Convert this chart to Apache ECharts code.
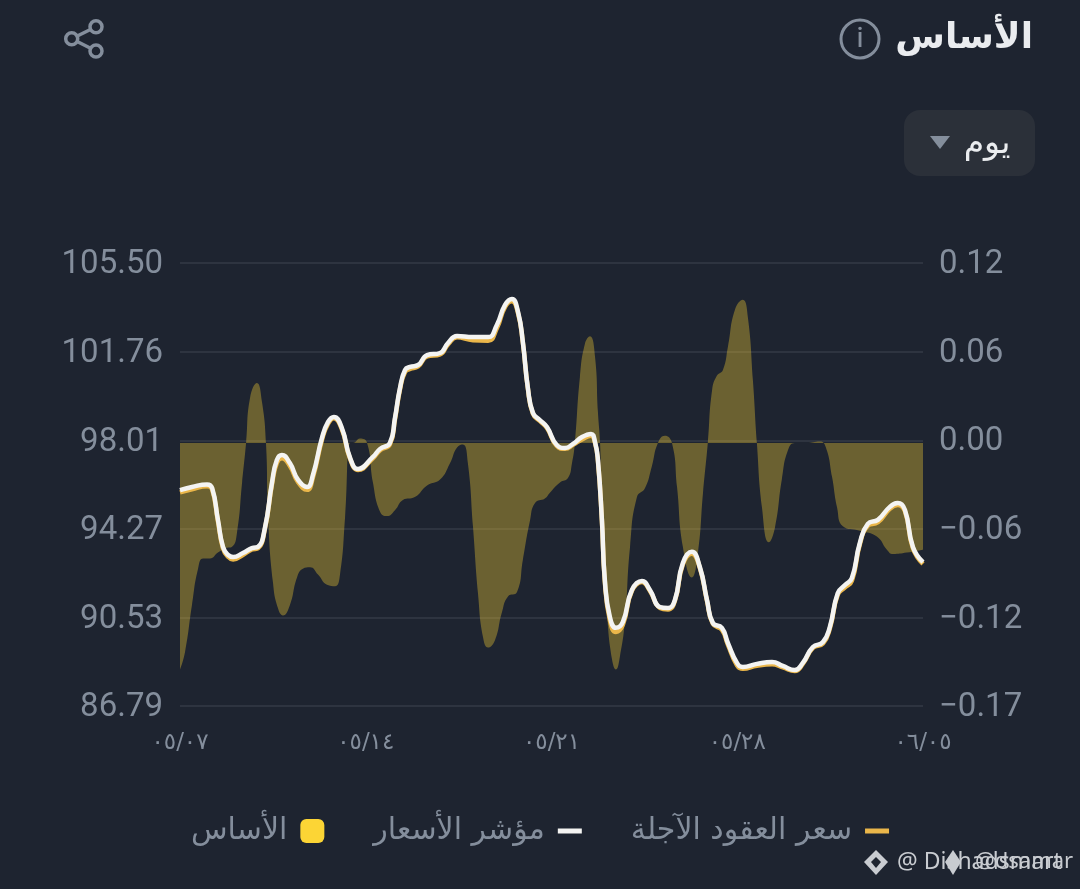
<!DOCTYPE html>
<html lang="ar">
<head>
<meta charset="utf-8">
<style>html,body{margin:0;padding:0;background:#1e2430}#c{width:1080px;height:889px}</style>
<script src="https://cdn.jsdelivr.net/npm/echarts@6/dist/echarts.min.js"></script>
</head>
<body>
<div id="c"></div>
<script>
const titleText = 'الأساس';
const periodText = 'يوم';
const futuresName = 'سعر العقود الآجلة';
const indexName = 'مؤشر الأسعار';
const basisName = 'الأساس';
const dateLabels = ['٠٥/٠٧','٠٥/١٤','٠٥/٢١','٠٥/٢٨','٠٦/٠٥'];
const leftTicks = [86.79,90.53,94.27,98.01,101.76,105.50];
const rightLabels = ['−0.17','−0.12','−0.06','0.00','0.06','0.12'];

const priceDays = [0,.45,1.02,1.21,1.43,1.62,1.81,2.00,2.37,2.71,2.94,3.20,3.47,3.65,3.84,4.14,4.45,4.79,5.01,5.35,5.58,5.80,6.10,6.41,6.71,7.27,7.54,7.91,8.10,8.29,8.48,8.67,8.97,9.31,9.80,10.10,10.44,11.04,11.61,11.94,12.25,12.51,12.74,12.92,13.11,13.30,13.56,13.83,14.20,14.51,14.81,15.15,15.49,15.64,15.75,15.90,16.01,16.20,16.43,16.69,17.03,17.41,17.71,18.09,18.39,18.65,18.95,19.29,19.59,19.86,20.08,20.42,20.65,20.99,21.21,21.74,22.31,22.72,23.17,23.47,23.85,24.23,24.49,24.79,25.06,25.32,25.62,25.92,26.30,26.75,27.05,27.32,27.62,28];
const indexPrices = [95.91,96.04,96.15,96.00,94.65,93.51,93.17,93.08,93.25,93.46,93.51,94.31,96.25,97.18,97.39,97.05,96.34,96.04,96.55,98.11,98.79,99.00,98.53,97.27,96.80,97.31,97.65,97.90,98.95,100.22,100.98,101.11,101.19,101.61,101.70,102.12,102.42,102.37,102.37,102.88,103.73,103.98,103.43,102.16,100.22,99.17,98.87,98.57,97.81,97.69,97.86,98.15,98.28,97.94,97.18,94.65,92.11,90.55,90.09,90.34,91.69,92.07,91.69,90.97,90.93,91.27,92.83,93.30,92.66,91.27,90.30,90.09,89.45,88.61,88.44,88.57,88.65,88.48,88.31,88.61,89.28,89.49,90.13,91.56,91.90,92.20,93.68,94.48,94.65,95.20,95.36,95.07,93.51,92.87];
const futuresPrices = [95.81,95.94,96.07,95.94,94.59,93.45,93.09,92.98,93.17,93.40,93.45,94.27,96.17,97.06,97.25,96.93,96.24,95.92,96.45,98.03,98.71,98.94,98.47,97.23,96.76,97.25,97.59,97.84,98.89,100.16,100.90,101.03,101.13,101.55,101.64,102.06,102.36,102.24,102.22,102.74,103.65,103.88,103.37,102.14,100.20,99.13,98.83,98.53,97.77,97.65,97.82,98.05,98.20,97.90,97.14,94.61,92.05,90.41,89.92,90.22,91.65,92.03,91.65,90.93,90.87,91.23,92.77,93.22,92.62,91.23,90.26,90.01,89.37,88.51,88.36,88.49,88.55,88.42,88.27,88.57,89.24,89.43,90.07,91.50,91.80,92.08,93.62,94.40,94.55,95.12,95.28,95.01,93.45,92.79];

const basisDays = [0,.19,.45,.68,.87,1.13,1.43,1.70,1.96,2.15,2.34,2.49,2.64,2.90,3.09,3.24,3.32,3.50,3.69,3.88,4.14,4.41,4.63,4.90,5.20,5.54,5.84,6.03,6.22,6.41,6.52,6.78,7.05,7.27,7.54,7.80,8.10,8.40,8.85,9.31,9.80,10.17,10.44,10.66,10.85,11.04,11.23,11.42,11.61,11.87,12.13,12.36,12.70,12.92,13.19,13.38,13.75,13.94,14.32,14.62,14.77,14.88,15.07,15.26,15.45,15.64,15.75,15.83,15.94,16.09,16.28,16.43,16.58,16.77,16.96,17.22,17.52,17.78,18.01,18.27,18.54,18.73,18.95,19.29,19.52,19.71,19.89,20.05,20.23,20.46,20.65,20.91,21.21,21.40,21.59,21.74,21.93,22.19,22.42,22.68,22.91,23.17,23.62,24.11,24.34,24.57,24.76,24.98,25.62,26.26,26.64,26.87,27.39,28];
const basisValues = [-.155,-.143,-.111,-.086,-.079,-.079,-.075,-.072,-.071,-.061,-.027,0,.031,.041,.028,0,-.051,-.095,-.113,-.118,-.111,-.092,-.086,-.085,-.090,-.097,-.098,-.090,-.051,0,0,.003,0,-.027,-.047,-.050,-.046,-.039,-.037,-.029,-.025,-.014,-.003,-.001,-.014,-.057,-.103,-.133,-.140,-.135,-.116,-.105,-.102,-.080,-.053,-.041,-.038,-.034,-.027,-.024,-.014,0,.045,.068,.073,.059,.021,0,-.066,-.116,-.148,-.155,-.146,-.121,-.071,-.037,-.031,-.016,0,.005,0,-.030,-.071,-.092,-.075,-.034,0,.036,.046,.050,.066,.091,.098,.086,.043,0,-.044,-.068,-.058,-.025,-.005,0,0,.001,-.003,-.023,-.044,-.057,-.060,-.064,-.073,-.076,-.075,-.073];

const GREY = '#848e9c', YELLOW = '#fcd535', ORANGE = '#eab64a', WHITE = '#f4f4f2', BG = '#1e2430';
const arabic = '"DejaVu Sans", sans-serif';
const barIcon = 'path://M0,9.5 h24 v5 h-24 z M0,0 h0 v0 z M24,24 h0 v0 z';
const pairs = (xs, ys) => xs.map((x, i) => [x, ys[i]]);
const tickRich = {t: {color: GREY, fontFamily: 'Roboto', fontSize: 33, padding: [4, 0, 0, 0]}};

const chart = echarts.init(document.getElementById('c'), null, {renderer: 'canvas'});
chart.setOption({
  backgroundColor: BG,
  animation: false,
  grid: {left: 180, right: 157, top: 263, bottom: 183},
  xAxis: {
    type: 'value', min: 0, max: 28, interval: 7,
    axisLine: {show: false}, axisTick: {show: false}, splitLine: {show: false},
    axisLabel: {
      color: GREY, fontFamily: arabic, fontSize: 23, margin: 26,
      showMinLabel: true, showMaxLabel: true,
      formatter: (v, i) => dateLabels[i]
    }
  },
  yAxis: [
    {
      type: 'value', min: 86.79, max: 105.5, position: 'left',
      axisLine: {show: false},
      axisTick: {show: false, customValues: leftTicks},
      splitLine: {show: true, lineStyle: {color: '#343a46', width: 1.5}},
      axisLabel: {customValues: leftTicks, margin: 17, rich: tickRich,
        formatter: v => '{t|' + v.toFixed(2) + '}'}
    },
    {
      type: 'value', min: -0.18, max: 0.12, interval: 0.06, position: 'right',
      axisLine: {show: false}, axisTick: {show: false}, splitLine: {show: false},
      axisLabel: {margin: 16, rich: tickRich,
        formatter: (v, i) => '{t|' + rightLabels[i] + '}'}
    },
    {type: 'value', min: -0.18, max: 0.1232, show: false}
  ],
  legend: {
    left: 186, top: 811, align: 'right', itemGap: 49, itemWidth: 24, itemHeight: 24,
    textStyle: {color: GREY, fontFamily: arabic, fontSize: 30, padding: [0, 8, 0, 0]},
    itemStyle: {borderWidth: 0},
    data: [
      {name: basisName, icon: 'roundRect'},
      {name: indexName, icon: barIcon},
      {name: futuresName, icon: barIcon}
    ]
  },
  series: [
    {
      name: basisName, type: 'line', yAxisIndex: 2, smooth: 0.5, symbol: 'none', z: 1,
      data: pairs(basisDays, basisValues),
      itemStyle: {color: YELLOW},
      lineStyle: {width: 0},
      areaStyle: {color: YELLOW, opacity: 0.35}
    },
    {
      name: futuresName, type: 'line', yAxisIndex: 0, smooth: 0.5, symbol: 'none', z: 2,
      data: pairs(priceDays, futuresPrices),
      itemStyle: {color: ORANGE},
      lineStyle: {color: ORANGE, width: 4.5}
    },
    {
      name: indexName, type: 'line', yAxisIndex: 0, smooth: 0.5, symbol: 'none', z: 3,
      data: pairs(priceDays, indexPrices),
      itemStyle: {color: WHITE},
      lineStyle: {color: WHITE, width: 4.5}
    }
  ],
  graphic: [
    {type: 'text', right: 47, top: 21, style: {text: titleText, fill: '#eaecef', font: 'bold 36px "DejaVu Sans"'}},
    {type: 'circle', shape: {cx: 860, cy: 39, r: 19}, style: {fill: 'none', stroke: GREY, lineWidth: 3}},
    {type: 'text', x: 860, y: 39, style: {text: 'i', fill: GREY, font: '500 26px Inter', align: 'center', verticalAlign: 'middle'}},
    {type: 'line', shape: {x1: 71.7, y1: 38.7, x2: 96, y2: 26.7}, style: {stroke: GREY, lineWidth: 3.5}},
    {type: 'line', shape: {x1: 71.7, y1: 38.7, x2: 96, y2: 51}, style: {stroke: GREY, lineWidth: 3.5}},
    {type: 'circle', shape: {cx: 71.7, cy: 38.7, r: 6}, style: {fill: BG, stroke: GREY, lineWidth: 3.5}},
    {type: 'circle', shape: {cx: 96, cy: 26.7, r: 6}, style: {fill: BG, stroke: GREY, lineWidth: 3.5}},
    {type: 'circle', shape: {cx: 96, cy: 51, r: 6}, style: {fill: BG, stroke: GREY, lineWidth: 3.5}},
    {type: 'rect', shape: {x: 904, y: 110, width: 131, height: 66, r: 16}, style: {fill: '#2b3039'}},
    {type: 'polygon', shape: {points: [[930, 136], [950, 136], [940, 149]]}, style: {fill: GREY}},
    {type: 'text', x: 987, y: 144, style: {text: periodText, fill: '#eaecef', font: '33px "DejaVu Sans"', align: 'center', verticalAlign: 'middle'}},
    {type: 'polygon', shape: {points: [[876, 850], [888, 862], [876, 875], [864, 862]]}, style: {fill: '#c9ccd1'}},
    {type: 'polygon', shape: {points: [[876, 857], [881, 862], [876, 868], [871, 862]]}, style: {fill: BG}},
    {type: 'polygon', shape: {points: [[953, 850], [961, 862], [953, 875], [945, 862]]}, style: {fill: '#c9ccd1'}},
    {type: 'text', x: 897, y: 862, style: {text: '@ Dishadsmart', fill: '#c9ccd1', font: '23px "Noto Sans"', verticalAlign: 'middle'}},
    {type: 'text', x: 975, y: 862, style: {text: '@dsamar', fill: '#c9ccd1', font: '22px "Noto Sans"', verticalAlign: 'middle'}}
  ]
});
</script>
</body>
</html>
